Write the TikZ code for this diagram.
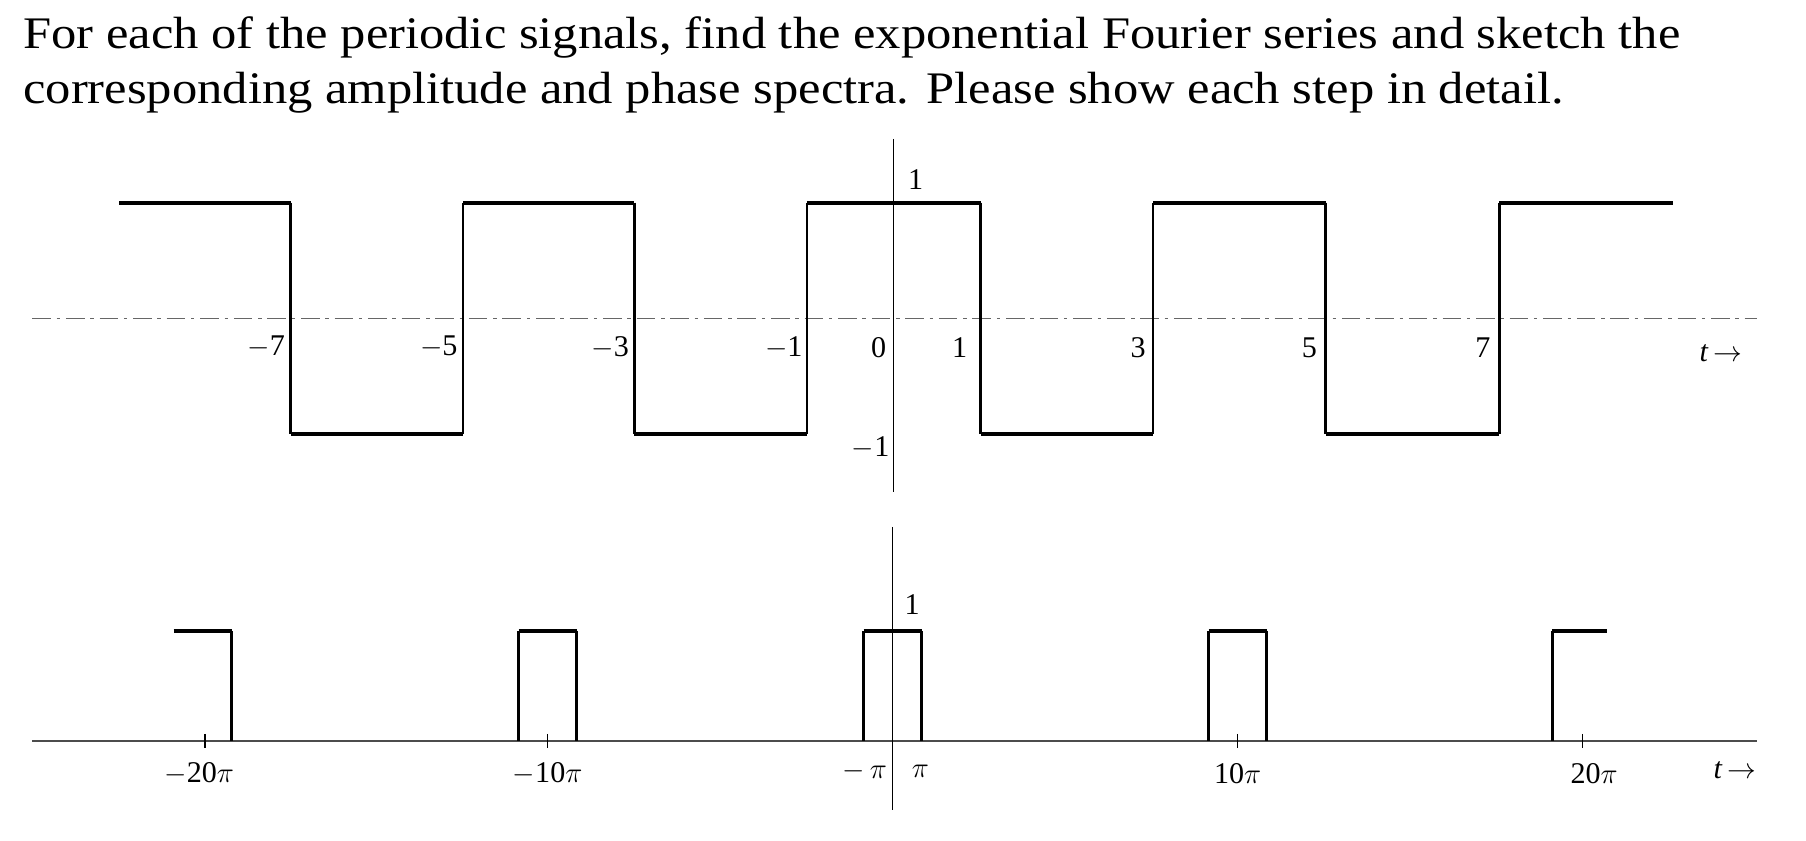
\documentclass[tikz,border=0pt]{standalone}
\usepackage{fontspec}
\setmainfont{Liberation Serif}
\newfontfamily\titlefont[FakeStretch=1.12]{Liberation Serif}
\begin{document}
\begin{tikzpicture}[x=1pt,y=-1pt,
  sig/.style={line width=3.5pt},
  edge/.style={line width=2.2pt},
  ax/.style={line width=1.2pt},
  lab/.style={font=\fontsize{26}{28}\selectfont, inner sep=0pt}]
\useasboundingbox (0,0) rectangle (1560,726);
\node[anchor=north west, align=left, inner sep=0pt, font=\titlefont\fontsize{39}{48}\selectfont] (title) at (20,14)
 {For each of the periodic signals, find the exponential Fourier series and sketch the\\corresponding amplitude and phase spectra. Please show each step in detail.};
% top signal
\draw[ax, gray!80!black, dash pattern=on 16pt off 5pt on 3pt off 5pt] (28,275) -- (1518,275);
\draw[ax] (772,120) -- (772,425);
\draw[sig] (103,175) -- (251,175);
\draw[sig] (251,375) -- (400,375);
\draw[sig] (400,175) -- (548,175);
\draw[sig] (548,375) -- (697,375);
\draw[sig] (697,175) -- (847,175);
\draw[sig] (847,375) -- (996,375);
\draw[sig] (996,175) -- (1145,175);
\draw[sig] (1145,375) -- (1295,375);
\draw[sig] (1295,175) -- (1445,175);
\foreach \x in {251,400,548,697,847,996,1145,1295} \draw[edge] (\x,175) -- (\x,375);
\node[lab] (n7) at (230,300) {$-$7};
\node[lab] (n5) at (379,300) {$-$5};
\node[lab] (n3) at (527,300) {$-$3};
\node[lab] (n1) at (677,300) {$-$1};
\node[lab] (z) at (759,300) {0};
\node[lab] (p1) at (829,300) {1};
\node[lab] (p3) at (983,300) {3};
\node[lab] (p5) at (1131,300) {5};
\node[lab] (p7) at (1281,300) {7};
\node[lab] (one) at (791,155) {1};
\node[lab] (mone) at (752,387) {$-$1};
\node[lab, anchor=west] (t1) at (1468,305) {\textit{t}\,$\rightarrow$};
% bottom signal
\draw[ax, gray!60!black, line width=1.6pt] (28,640) -- (1518,640);
\draw[ax] (771,455) -- (771,700);
\draw[sig] (150,545) -- (200,545);
\draw[edge] (200,545) -- (200,640);
\foreach \c in {473,771,1069} {
  \draw[sig] (\c-25,545) -- (\c+25,545);
  \draw[edge] (\c-25,640) -- (\c-25,545);
  \draw[edge] (\c+25,545) -- (\c+25,640);
}
\draw[edge] (1341,640) -- (1341,545);
\draw[sig] (1341,545) -- (1388,545);
\foreach \x in {177,473,1069,1367} \draw[ax] (\x,634) -- (\x,646);
\node[lab] (m20) at (172,668) {$-$20$\pi$};
\node[lab] (m10) at (473,668) {$-$10$\pi$};
\node[lab] (mpi) at (747,666) {$-\,\pi$};
\node[lab] (ppi) at (795,666) {$\pi$};
\node[lab] (p10) at (1069,668) {10$\pi$};
\node[lab] (p20) at (1377,668) {20$\pi$};
\node[lab, anchor=west] (t2) at (1480,665) {\textit{t}\,$\rightarrow$};
\node[lab] (one2) at (788,522) {1};
\end{tikzpicture}
\end{document}
